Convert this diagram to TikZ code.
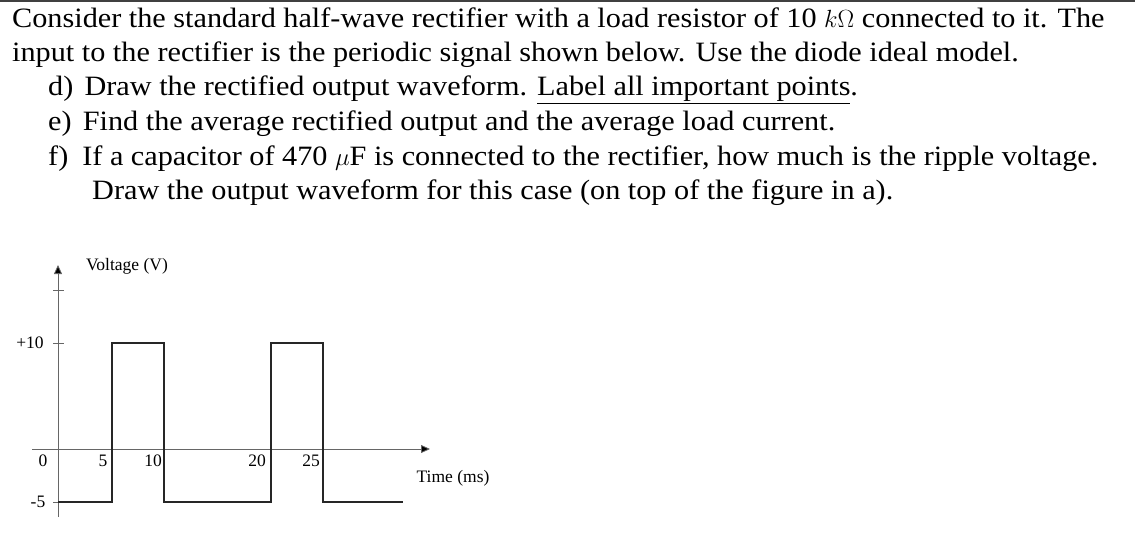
\documentclass[tikz,border=0pt]{standalone}
\usepackage{fontspec}
\setmainfont{Liberation Serif}
\newfontfamily\widefont[FakeStretch=1.08]{Liberation Serif}
\usetikzlibrary{arrows.meta}
\begin{document}
\begin{tikzpicture}[x=1pt,y=-1pt,
  txt/.style={anchor=base west,inner sep=0pt,font=\widefont\fontsize{28}{32}\selectfont},
  lab/.style={inner sep=0pt,font=\fontsize{17.5}{20}\selectfont},
  axis/.style={draw=gray!80!black,line width=0.8pt},
  wave/.style={draw=black!85,line width=1.5pt}]
\useasboundingbox (0,0) rectangle (1135,556);
\draw[draw=black!75,line width=2pt] (0,1) -- (1135,1);
\node[txt] (l1) at (12,28) {Consider the standard half-wave rectifier with a load resistor of 10 $k\Omega$ connected to it. The};
\node[txt] (l2) at (12,62) {input to the rectifier is the periodic signal shown below. Use the diode ideal model.};
\node[txt] (d) at (48,96) {d)\hspace{0.4em}Draw the rectified output waveform. \underline{Label all important points}.};
\node[txt] (e) at (48,131) {e)\hspace{0.4em}Find the average rectified output and the average load current.};
\node[txt] (f) at (48,166) {f)\hspace{0.5em}If a capacitor of 470 $\mu$F is connected to the rectifier, how much is the ripple voltage.};
\node[txt] (f2) at (92,200) {Draw the output waveform for this case (on top of the figure in a).};
% axes
\coordinate (ytop) at (58,265);
\coordinate (ybot) at (58,517);
\coordinate (xl) at (32,449);
\coordinate (xr) at (430,449);
\draw[axis,-{Triangle[length=9pt,width=8pt,fill=black]}] (ybot) -- (ytop);
\draw[axis,-{Triangle[length=9pt,width=8pt,fill=black]}] (xl) -- (xr);
\draw[axis] (53,290) -- (64,290);
\draw[axis] (53,343) -- (64,343);
\draw[axis] (53,502) -- (64,502);
\draw[wave] (58,502) -- (112,502) -- (112,343) -- (164,343) -- (164,502) -- (271,502) -- (271,343) -- (323,343) -- (323,502) -- (403,502);
\node[lab] (vl) at (127,266) {Voltage (V)};
\node[lab] (tl) at (453,478) {Time (ms)};
\node[lab] (p10) at (30,343) {+10};
\node[lab] (m5) at (38,502) {-5};
\node[lab] (z) at (43,461) {0};
\node[lab] (t5) at (103,461) {5};
\node[lab] (t10) at (153,461) {10};
\node[lab] (t20) at (257,461) {20};
\node[lab] (t25) at (311,461) {25};
\end{tikzpicture}
\end{document}
